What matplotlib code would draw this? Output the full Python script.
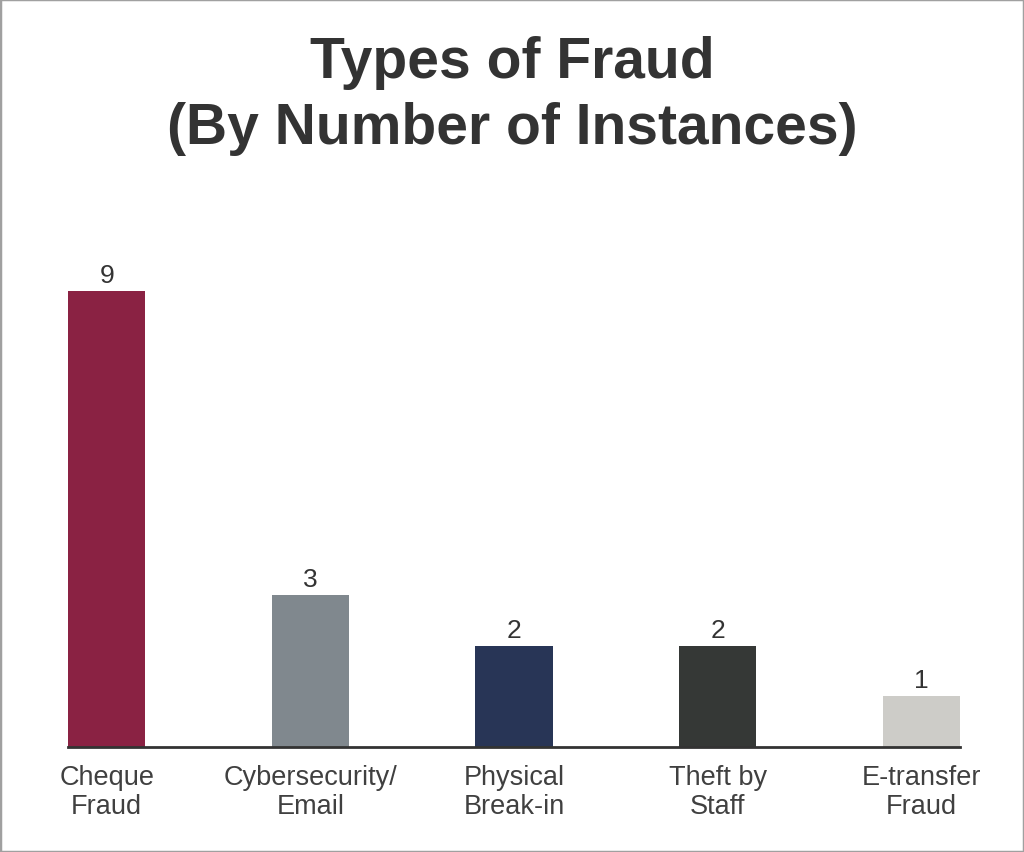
import matplotlib.pyplot as plt
import numpy as np

categories = ["Cheque\nFraud", "Cybersecurity/\nEmail", "Physical\nBreak-in", "Theft by\nStaff", "E-transfer\nFraud"]
counts = [9, 3, 2, 2, 1]
colors = ["#8a2243", "#80888e", "#283556", "#353836", "#cdccc8"]

plt.rcParams['font.family'] = ['Liberation Sans', 'DejaVu Sans']

fig = plt.figure(figsize=(10.24, 8.53), dpi=100)
# axes in figure fraction: left 68px, right 960px, bottom 748px, top 241px
ax = fig.add_axes([68 / 1024, (853 - 748) / 853, (960 - 68) / 1024, (748 - 241) / 853])

x = np.arange(len(categories))
w = 0.38
bars = ax.bar(x, counts, width=w, color=colors)
ax.set_xlim(-w / 2, len(categories) - 1 + w / 2)
ax.set_ylim(0, 10)

for b, v in zip(bars, counts):
    ax.text(b.get_x() + b.get_width() / 2, v + 0.08, str(v), ha='center', va='bottom',
            fontsize=19, color='#333333')

ax.set_xticks(x)
ax.set_xticklabels(categories, fontsize=19.5, color='#404040', linespacing=1.15)
ax.tick_params(axis='x', length=0, pad=12)
ax.set_yticks([])
for s in ['top', 'right', 'left']:
    ax.spines[s].set_visible(False)
ax.spines['bottom'].set_color('#333333')
ax.spines['bottom'].set_linewidth(2)

fig.text(0.5, 1 - 96 / 853, "Types of Fraud\n(By Number of Instances)", ha='center', va='center',
         fontsize=41, fontweight='bold', color='#333333', linespacing=1.28)

# grey frame around the picture
fig.patches.append(plt.Rectangle((0, 0), 1, 1, transform=fig.transFigure, fill=False,
                                 edgecolor='#a0a0a0', linewidth=2.5))

fig.savefig("out.png", dpi=100)
